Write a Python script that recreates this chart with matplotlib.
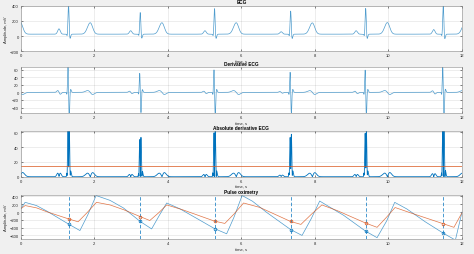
import numpy as np
import matplotlib
matplotlib.use("Agg")
import matplotlib.pyplot as plt

# ---------------- data ----------------
fs = 250  # samples per second
duration = 12.0

# ECG beats
r_times = [1.30, 3.25, 5.27, 7.34, 9.38, 11.49]
r_heights = [410, 312, 364, 330, 364, 405]
t_heights = [150, 150, 150, 148, 152, 150]
p_heights = [70, 45, 45, 32, 45, 60]
s_depths = [-70, -65, -70, -70, -70, -75]
q_depths = [-30, -25, -30, -30, -30, -30]
baseline = 25
start_t_height = 165  # tail of a T wave cut off at t = 0

threshold = 15

# pulse oximetry vertices (time, value)
blue_t = [0, 0.12, 0.43, 0.71, 1.30, 1.61, 1.82, 2.05, 2.43, 2.79, 3.25, 3.56,
          3.76, 3.97, 4.33, 4.80, 5.27, 5.60, 5.80, 6.02, 6.30, 6.70, 7.34,
          7.65, 7.90, 8.13, 8.40, 8.78, 9.38, 9.69, 9.95, 10.17, 10.50, 11.00,
          11.49, 11.82, 12.0]
blue_v = [83, 250, 167, 25, -308, -475, -80, 425, 300, 108, -242, -433,
          -100, 233, 83, -170, -425, -558, -130, 425, 280, -17, -450,
          -600, -170, 283, 130, -83, -492, -658, -230, 250, 80, -250,
          -542, -720, 0]
orange_t = [0, 0.12, 0.43, 0.71, 1.30, 1.56, 1.80, 2.06, 2.43, 2.80, 3.25,
            3.51, 3.75, 3.97, 4.40, 5.27, 5.55, 5.80, 6.06, 6.50, 7.34, 7.62,
            7.90, 8.19, 8.60, 9.38, 9.69, 9.95, 10.18, 10.60, 11.49, 11.78,
            12.0]
orange_v = [83, 167, 108, 8, -175, -250, -20, 250, 183, 60, -117,
            -217, -20, 183, 60, -233, -292, -50, 233, 120, -242, -317,
            -60, 183, 40, -283, -392, -130, 117, -20, -300, -392,
            -17]
blue_marks = [-308, -242, -425, -450, -492, -542]
orange_marks = [-175, -117, -233, -242, -283, -300]

# ---------------- build ECG from the beat values ----------------
t = np.arange(0, duration + 1 / fs, 1 / fs)


def bump(center, amp, sig_left, sig_right=None):
    if sig_right is None:
        sig_right = sig_left
    s = np.where(t < center, sig_left, sig_right)
    return amp * np.exp(-0.5 * ((t - center) / s) ** 2)


ecg = np.full_like(t, float(baseline))
ecg += bump(-0.02, start_t_height, 0.07)
for r, rh, th, ph, sd, qd in zip(r_times, r_heights, t_heights, p_heights,
                                 s_depths, q_depths):
    ecg += bump(r - 0.26, ph, 0.035)
    ecg += bump(r - 0.035, qd, 0.010)
    ecg += bump(r, rh - baseline, 0.0146, 0.016)
    ecg += bump(r + 0.035, sd, 0.012, 0.02)
    ecg += bump(r + 0.59, th, 0.075, 0.065)

decg = np.diff(ecg)
td = t[1:]
adecg = np.abs(decg)

# ---------------- figure ----------------
plt.rcParams["font.family"] = ["Liberation Sans", "DejaVu Sans"]
BLUE = "#0072BD"
LIGHTBLUE = "#4f9ccd"
ORANGE = "#D95319"
AXC = "#262626"

fig = plt.figure(figsize=(4.74, 2.55), dpi=100, facecolor="#f0f0f0")

left, width = 0.0437, 0.931
rects = [
    (left, 0.795, width, 0.179),
    (left, 0.552, width, 0.180),
    (left, 0.303, width, 0.180),
    (left, 0.0576, width, 0.174),
]
axes = [fig.add_axes(r) for r in rects]


def style(ax, title, ylim, yticks, ylabel=None):
    ax.set_facecolor("white")
    ax.set_xlim(0, 12)
    ax.set_ylim(*ylim)
    ax.set_xticks(np.arange(0, 13, 2))
    ax.set_yticks(yticks)
    ax.tick_params(direction="in", length=1.5, width=0.4, labelsize=3.0,
                   colors=AXC, pad=1.5, top=True, right=True)
    ax.grid(True, color="#262626", alpha=0.15, linewidth=0.4)
    ax.set_axisbelow(True)
    for sp in ax.spines.values():
        sp.set_linewidth(0.4)
        sp.set_color("#8a8a8a")
    ax.set_title(title, fontsize=3.4, fontweight="bold", pad=1.6,
                 color="black")
    ax.set_xlabel("time, s", fontsize=3.0, labelpad=0.6, color=AXC)
    if ylabel:
        ax.set_ylabel(ylabel, fontsize=3.0, labelpad=1, color=AXC)


ax1, ax2, ax3, ax4 = axes
ax1.plot(t, ecg, color=LIGHTBLUE, lw=0.5)
style(ax1, "ECG", (-200, 400), [-200, 0, 200, 400], "Amplitude, mV")

ax2.plot(td, decg, color=LIGHTBLUE, lw=0.5)
style(ax2, "Derivative ECG", (-55, 66), [-40, -20, 0, 20, 40, 60])

ax3.plot(td, adecg, color=BLUE, lw=0.6)
ax3.axhline(threshold, color=ORANGE, lw=0.5)
style(ax3, "Absolute derivative ECG", (0, 62), [0, 20, 40, 60])

ax4.plot(blue_t, blue_v, color=LIGHTBLUE, lw=0.5)
ax4.plot(orange_t, orange_v, color=ORANGE, lw=0.5, alpha=0.8)
for r in r_times:
    ax4.axvline(r, color=BLUE, lw=0.5, ls=(0, (5, 3)))
ax4.plot(r_times, blue_marks, "o", color=BLUE, ms=2, mfc="none", mew=0.5)
ax4.plot(r_times, orange_marks, "o", color=ORANGE, ms=2, mfc="none", mew=0.5)
style(ax4, "Pulse oximetry", (-700, 440), [-600, -400, -200, 0, 200, 400],
      "Amplitude, mV")

fig.savefig("out.png", dpi=100, facecolor=fig.get_facecolor())
